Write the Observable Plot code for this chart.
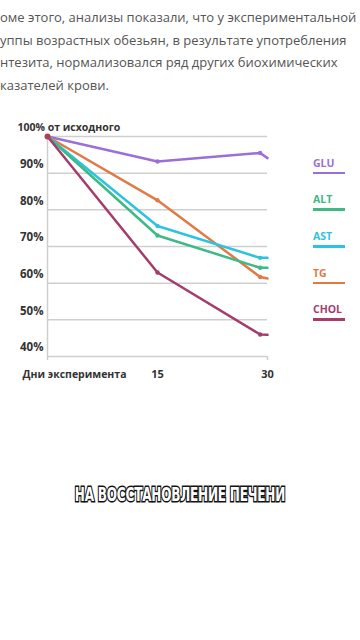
<!DOCTYPE html>
<html><head><meta charset="utf-8">
<script src="https://cdn.jsdelivr.net/npm/d3@7"></script>
<script src="https://cdn.jsdelivr.net/npm/@observablehq/plot@0.6"></script>
<style>
html,body{margin:0;padding:0;background:#fff;width:360px;height:640px;overflow:hidden;position:relative;font-family:"Open Sans",sans-serif;}
#para{position:absolute;left:0;top:6px;width:370px;font-size:13px;line-height:22.5px;color:#555;white-space:nowrap;}
#chart{position:absolute;left:0;top:110px;}
#legend{position:absolute;left:313px;top:110px;}
.item{position:absolute;left:0;width:32px;font-weight:700;font-size:10.5px;line-height:12px;}
.item span{display:block;height:2.5px;margin-top:3px;}
#capwrap{position:absolute;left:0;top:482px;width:360px;text-align:center;}
#caption{display:inline-block;transform:scaleX(0.67);transform-origin:center;font-family:"Liberation Sans Narrow","DejaVu Sans Condensed",sans-serif;font-weight:700;font-size:20px;color:#fff;-webkit-text-stroke:3px #111;paint-order:stroke fill;letter-spacing:-0.3px;}
</style></head>
<body>
<div id="para"></div>
<div id="chart"></div>
<div id="legend"></div>
<div id="capwrap"><span id="caption"></span></div>
<script>
const paragraphLines = [
  "оме этого, анализы показали, что у экспериментальной",
  "уппы возрастных обезьян, в результате употребления",
  "нтезита, нормализовался ряд других биохимических",
  "казателей крови."
];
const captionText = "НА ВОССТАНОВЛЕНИЕ ПЕЧЕНИ";
const days = [0, 15, 29, 30];
const seriesNames = ["GLU", "ALT", "AST", "TG", "CHOL"];
const seriesColors = ["#9a6fd8", "#3dba86", "#2cc3e0", "#e07a46", "#a43d6c"];
const glu = [100, 93.2, 95.5, 94.1];
const alt = [100, 73.0, 64.2, 64.2];
const ast = [100, 75.6, 66.9, 66.9];
const tg = [100, 82.6, 61.7, 61.3];
const chol = [100, 62.9, 46.0, 45.9];
const yTicks = [40, 50, 60, 70, 80, 90];
const yTopLabel = "100% от исходного";
const xTicks = [15, 30];
const xTitle = "Дни эксперимента";
const legendLevels = [90, 80, 70, 60, 50];

document.getElementById("para").innerHTML = paragraphLines.join("<br>");
document.getElementById("caption").textContent = captionText;

const valuesBySeries = {GLU: glu, ALT: alt, AST: ast, TG: tg, CHOL: chol};
const drawOrder = ["GLU", "TG", "AST", "ALT", "CHOL"];
const rows = [];
for (const s of drawOrder) valuesBySeries[s].forEach((v, i) => rows.push({series: s, day: days[i], value: v, idx: i}));
const markers = rows.filter(d => d.idx > 0 && d.idx < 3);

const color = {domain: seriesNames, range: seriesColors};
const grey = "#cfcfcf";
const textCol = "#333";

const plot = Plot.plot({
  width: 360, height: 276,
  marginLeft: 47, marginRight: 93, marginTop: 26, marginBottom: 30,
  x: {domain: [0, 30], axis: null},
  y: {domain: [40, 100], axis: null},
  color,
  style: {fontFamily: "'Open Sans', sans-serif", background: "transparent"},
  marks: [
    Plot.ruleY([...yTicks, 100], {stroke: grey, strokeWidth: 1.5}),
    Plot.ruleX([0], {stroke: grey, strokeWidth: 1.5}),
    Plot.axisX({ticks: [0, 30], tickSize: 4, tickFormat: () => "", label: null, stroke: grey, strokeWidth: 1.5}),
    Plot.text(yTicks, {x: 0, y: d => d, text: d => d + "%", textAnchor: "end", dx: -4, dy: -9, fill: textCol, fontWeight: 700, fontSize: 11.5}),
    Plot.text([100], {x: 0, y: d => d, text: () => yTopLabel, textAnchor: "start", dx: -30, dy: -9, fill: textCol, fontWeight: 700, fontSize: 10.5}),
    Plot.text(xTicks, {x: d => d, y: () => 40, text: d => String(d), dy: 18, fill: textCol, fontWeight: 700, fontSize: 11}),
    Plot.text([xTitle], {x: () => 0, y: () => 40, text: d => d, textAnchor: "start", dx: -25, dy: 18, fill: textCol, fontWeight: 700, fontSize: 10.5}),
    Plot.line(rows, {x: "day", y: "value", z: "series", stroke: "series", strokeWidth: 2.5}),
    Plot.dot(markers, {x: "day", y: "value", fill: "series", r: 2.2}),
    Plot.dot([{day: 0, value: 100}], {x: "day", y: "value", fill: "#b0405a", r: 3})
  ]
});
document.getElementById("chart").appendChild(plot);

const yScale = plot.scale("y");
const leg = document.getElementById("legend");
seriesNames.forEach((s, i) => {
  const yPix = yScale.apply(legendLevels[i]);
  const el = document.createElement("div");
  el.className = "item";
  el.style.top = (yPix - 16) + "px";
  el.style.color = seriesColors[i];
  el.innerHTML = s + `<span style="background:${seriesColors[i]}"></span>`;
  leg.appendChild(el);
});
</script>
</body></html>
